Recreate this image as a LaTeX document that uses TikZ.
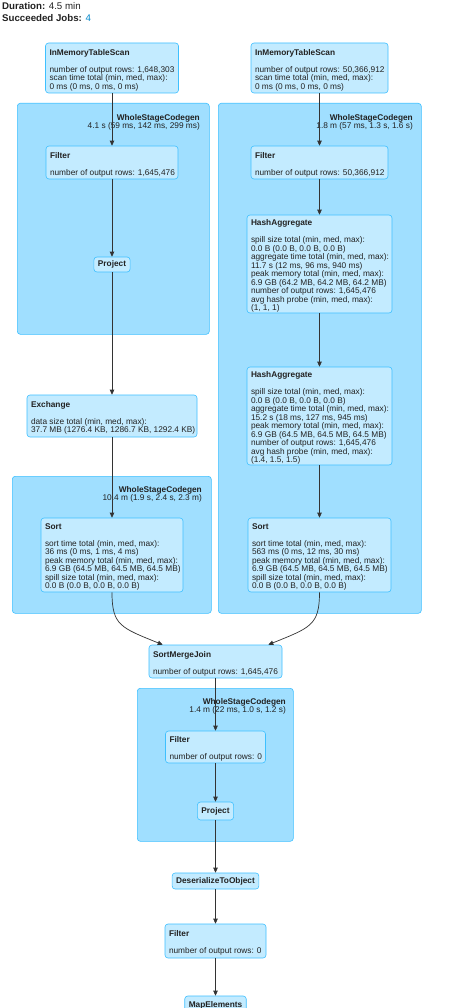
\documentclass[tikz,border=0pt]{standalone}
\usepackage{fontspec}
\setmainfont{Liberation Sans}
\usetikzlibrary{arrows.meta}
\definecolor{clfill}{HTML}{A0DFFF}
\definecolor{clline}{HTML}{3EC0FF}
\definecolor{ndfill}{HTML}{C3EBFF}
\definecolor{ndline}{HTML}{3EC0FF}
\definecolor{edgecol}{HTML}{333333}
\definecolor{linkblue}{HTML}{0088CC}
\definecolor{txt}{HTML}{222222}
\newcommand\planfont{\fontsize{8.3}{8.25}\selectfont}
\newcommand\plantext[2]{\makebox[#1][l]{\begin{tabular}{@{}l@{}}\rule{0pt}{10.8pt}#2\end{tabular}}}
\begin{document}
\begin{tikzpicture}[x=1pt,y=-1pt,
  cluster/.style={draw=clline, fill=clfill, rounded corners=3pt, line width=0.6pt, inner sep=0pt, anchor=north west},
  planbox/.style={draw=ndline, fill=ndfill, rounded corners=3pt, line width=0.6pt, inner xsep=4pt, inner ysep=0pt, anchor=center, font=\planfont, text=txt},
  titlebox/.style={planbox, font=\planfont\bfseries, align=center},
  flow/.style={draw=edgecol, line width=0.7pt, -{Triangle[length=5pt,width=4.5pt]}},
  wscg/.style={anchor=north east, align=right, inner sep=0pt, font=\planfont, text=txt},
  header/.style={anchor=base west, inner sep=0pt, font=\fontsize{9.7}{11}\selectfont, text=txt}
]
\useasboundingbox (0,0) rectangle (474,1008);
\fill[white] (0,0) rectangle (474,1008);

% header
\node[header] (dur) at (2,9.5) {\textbf{Duration:} 4.5 min};
\node[header] (jobs) at (2,21.5) {\textbf{Succeeded Jobs:} \textcolor{linkblue}{4}};

% clusters
\node[cluster, minimum width=192, minimum height=231] (clL1) at (17,103) {};
\node[cluster, minimum width=203, minimum height=510] (clR) at (218,103) {};
\node[cluster, minimum width=199, minimum height=137] (clL2) at (12,476) {};
\node[cluster, minimum width=156, minimum height=153] (clC) at (137,688) {};

\node[wscg] (labL1) at (200,114) {\textbf{WholeStageCodegen}\\4.1 s (59 ms, 142 ms, 299 ms)};
\node[wscg] (labR) at (413,114) {\textbf{WholeStageCodegen}\\1.8 m (57 ms, 1.3 s, 1.6 s)};
\node[wscg] (labL2) at (202,486) {\textbf{WholeStageCodegen}\\10.4 m (1.9 s, 2.4 s, 2.3 m)};
\node[wscg] (labC) at (286,698) {\textbf{WholeStageCodegen}\\1.4 m (22 ms, 1.0 s, 1.2 s)};

% left column
\node[planbox, minimum height=50] (scanL) at (112,68) {\plantext{125pt}{\textbf{InMemoryTableScan}\\ \\number of output rows: 1,648,303\\scan time total (min, med, max):\\0 ms (0 ms, 0 ms, 0 ms)}};
\node[planbox, minimum height=33] (filterL) at (112,162.5) {\plantext{124pt}{\textbf{Filter}\\ \\number of output rows: 1,645,476}};
\node[titlebox, minimum width=34, minimum height=15] (projectL) at (112,264.5) {Project};
\node[planbox, minimum height=42] (exchange) at (112,416) {\plantext{162pt}{\textbf{Exchange}\\ \\data size total (min, med, max):\\37.7 MB (1276.4 KB, 1286.7 KB, 1292.4 KB)}};
\node[planbox, minimum height=74] (sortL) at (112,555) {\plantext{134pt}{\textbf{Sort}\\ \\sort time total (min, med, max):\\36 ms (0 ms, 1 ms, 4 ms)\\peak memory total (min, med, max):\\6.9 GB (64.5 MB, 64.5 MB, 64.5 MB)\\spill size total (min, med, max):\\0.0 B (0.0 B, 0.0 B, 0.0 B)}};

% right column
\node[planbox, minimum height=50] (scanR) at (319.5,68) {\plantext{129pt}{\textbf{InMemoryTableScan}\\ \\number of output rows: 50,366,912\\scan time total (min, med, max):\\0 ms (0 ms, 0 ms, 0 ms)}};
\node[planbox, minimum height=33] (filterR) at (319.5,162.5) {\plantext{129pt}{\textbf{Filter}\\ \\number of output rows: 50,366,912}};
\node[planbox, minimum height=98] (hash1) at (319.5,264) {\plantext{137pt}{\textbf{HashAggregate}\\ \\spill size total (min, med, max):\\0.0 B (0.0 B, 0.0 B, 0.0 B)\\aggregate time total (min, med, max):\\11.7 s (12 ms, 96 ms, 940 ms)\\peak memory total (min, med, max):\\6.9 GB (64.2 MB, 64.2 MB, 64.2 MB)\\number of output rows: 1,645,476\\avg hash probe (min, med, max):\\(1, 1, 1)}};
\node[planbox, minimum height=98] (hash2) at (319.5,416) {\plantext{137pt}{\textbf{HashAggregate}\\ \\spill size total (min, med, max):\\0.0 B (0.0 B, 0.0 B, 0.0 B)\\aggregate time total (min, med, max):\\15.2 s (18 ms, 127 ms, 945 ms)\\peak memory total (min, med, max):\\6.9 GB (64.5 MB, 64.5 MB, 64.5 MB)\\number of output rows: 1,645,476\\avg hash probe (min, med, max):\\(1.4, 1.5, 1.5)}};
\node[planbox, minimum height=74] (sortR) at (319.5,555) {\plantext{135pt}{\textbf{Sort}\\ \\sort time total (min, med, max):\\563 ms (0 ms, 12 ms, 30 ms)\\peak memory total (min, med, max):\\6.9 GB (64.5 MB, 64.5 MB, 64.5 MB)\\spill size total (min, med, max):\\0.0 B (0.0 B, 0.0 B, 0.0 B)}};

% centre column
\node[planbox, minimum height=33] (smj) at (215.5,661.5) {\plantext{125pt}{\textbf{SortMergeJoin}\\ \\number of output rows: 1,645,476}};
\node[planbox, minimum height=32] (filterC) at (215.5,747) {\plantext{92pt}{\textbf{Filter}\\ \\number of output rows: 0}};
\node[titlebox, minimum width=35, minimum height=18] (projectC) at (215.5,811) {Project};
\node[titlebox, minimum width=85, minimum height=16] (deser) at (215.5,881) {DeserializeToObject};
\node[planbox, minimum height=34] (filterD) at (215.5,941) {\plantext{93pt}{\textbf{Filter}\\ \\number of output rows: 0}};
\node[titlebox, minimum width=61, minimum height=18] (mapEl) at (215.5,1005) {MapElements};

% connectors
\draw[flow] (scanL.south) -- (filterL.north);
\draw[flow] (filterL.south) -- (projectL.north);
\draw[flow] (projectL.south) -- (exchange.north);
\draw[flow] (exchange.south) -- (sortL.north);
\draw[flow] (scanR.south) -- (filterR.north);
\draw[flow] (filterR.south) -- (hash1.north);
\draw[flow] (hash1.south) -- (hash2.north);
\draw[flow] (hash2.south) -- (sortR.north);
\draw[flow] (sortL.south) .. controls ([yshift=-33pt]sortL.south) and ([xshift=-28pt,yshift=17pt]smj.north west) .. ([xshift=14pt]smj.north west);
\draw[flow] (sortR.south) .. controls ([yshift=-33pt]sortR.south) and ([xshift=28pt,yshift=17pt]smj.north east) .. ([xshift=-14pt]smj.north east);
\draw[flow] (smj.south) -- (filterC.north);
\draw[flow] (filterC.south) -- (projectC.north);
\draw[flow] (projectC.south) -- (deser.north);
\draw[flow] (deser.south) -- (filterD.north);
\draw[flow] (filterD.south) -- (mapEl.north);
\end{tikzpicture}
\end{document}
